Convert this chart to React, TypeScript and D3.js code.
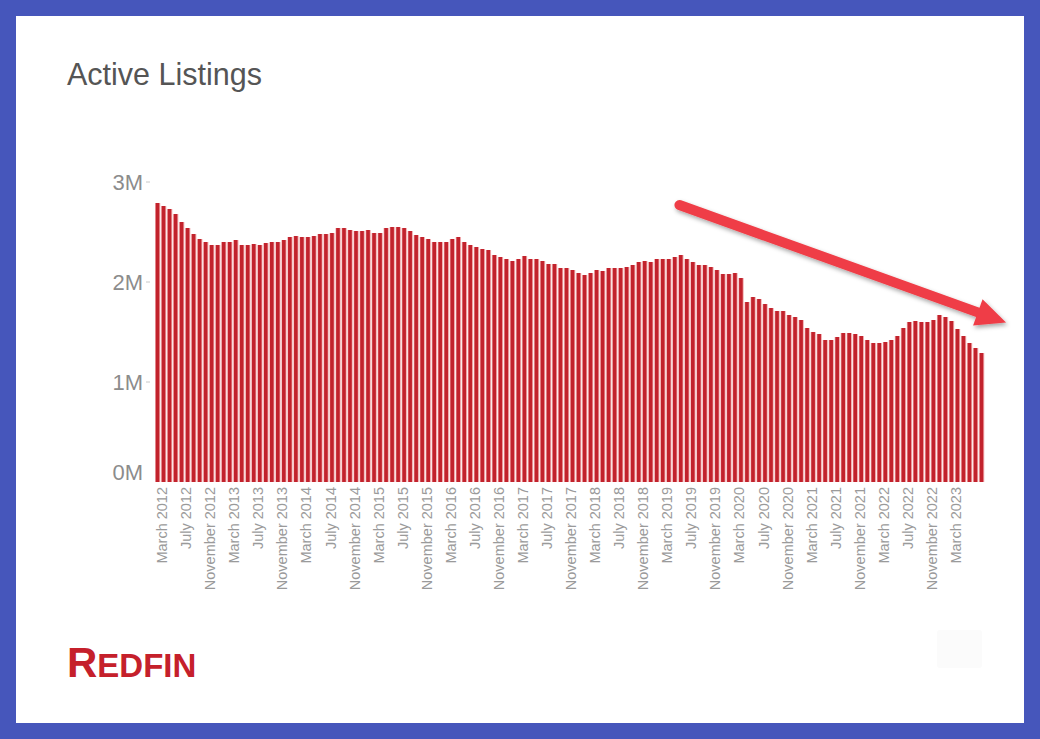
import React from 'react';
import * as d3 from 'd3';

// Active listings, millions, one value per month (first bar is February 2012)
const listings2012 = [2.79, 2.76, 2.73, 2.68, 2.60, 2.54, 2.48, 2.43, 2.40, 2.37, 2.37];
const listings2013 = [2.40, 2.40, 2.42, 2.37, 2.37, 2.38, 2.37, 2.39, 2.40, 2.40, 2.42, 2.45];
const listings2014 = [2.46, 2.45, 2.45, 2.46, 2.48, 2.48, 2.49, 2.54, 2.54, 2.52, 2.51, 2.51];
const listings2015 = [2.52, 2.49, 2.49, 2.54, 2.55, 2.55, 2.54, 2.51, 2.47, 2.45, 2.43, 2.40];
const listings2016 = [2.40, 2.40, 2.43, 2.45, 2.40, 2.37, 2.35, 2.33, 2.32, 2.27, 2.25, 2.23];
const listings2017 = [2.21, 2.23, 2.26, 2.23, 2.23, 2.21, 2.18, 2.18, 2.14, 2.14, 2.12, 2.09];
const listings2018 = [2.07, 2.09, 2.12, 2.11, 2.14, 2.14, 2.14, 2.15, 2.17, 2.20, 2.21, 2.20];
const listings2019 = [2.23, 2.23, 2.23, 2.25, 2.27, 2.23, 2.20, 2.17, 2.17, 2.15, 2.12, 2.08];
const listings2020 = [2.08, 2.09, 2.04, 1.80, 1.85, 1.83, 1.78, 1.74, 1.71, 1.71, 1.67, 1.65];
const listings2021 = [1.62, 1.54, 1.50, 1.48, 1.42, 1.42, 1.45, 1.49, 1.49, 1.48, 1.46, 1.42];
const listings2022 = [1.39, 1.39, 1.40, 1.42, 1.46, 1.54, 1.60, 1.61, 1.60, 1.60, 1.62, 1.67];
const listings2023 = [1.65, 1.61, 1.53, 1.46, 1.39, 1.34, 1.29];

const monthNames = ['January', 'February', 'March', 'April', 'May', 'June', 'July',
  'August', 'September', 'October', 'November', 'December'];

// [year, index of first month, values]
const years: [number, number, number[]][] = [
  [2012, 1, listings2012], [2013, 0, listings2013], [2014, 0, listings2014],
  [2015, 0, listings2015], [2016, 0, listings2016], [2017, 0, listings2017],
  [2018, 0, listings2018], [2019, 0, listings2019], [2020, 0, listings2020],
  [2021, 0, listings2021], [2022, 0, listings2022], [2023, 0, listings2023],
];

const tickLabels = [
  'March 2012', 'July 2012', 'November 2012', 'March 2013', 'July 2013', 'November 2013',
  'March 2014', 'July 2014', 'November 2014', 'March 2015', 'July 2015', 'November 2015',
  'March 2016', 'July 2016', 'November 2016', 'March 2017', 'July 2017', 'November 2017',
  'March 2018', 'July 2018', 'November 2018', 'March 2019', 'July 2019', 'November 2019',
  'March 2020', 'July 2020', 'November 2020', 'March 2021', 'July 2021', 'November 2021',
  'March 2022', 'July 2022', 'November 2022', 'March 2023',
];

const yTicks = [0, 1, 2, 3];
const yTickLabels = ['0M', '1M', '2M', '3M'];

interface Row {
  month: string
  value: number
}

const data: Row[] = [];
years.forEach(([year, first, vals]) => {
  vals.forEach((v, i) => data.push({month: `${monthNames[first + i]} ${year}`, value: v}));
});

const W = 1040;
const H = 739;
const font = '"Liberation Sans", Arial, Helvetica, sans-serif';

export default function App() {
  const left = 155, right = 985, baseline = 482, top = 182;

  const x = d3.scaleBand<string>(data.map(d => d.month), [left, right]);
  const y = d3.scaleLinear([0, 3], [baseline, top]);
  const step = x.step();
  // continuous month position, used to anchor the trend arrow
  const xi = d3.scaleLinear([0, data.length], [left, right]);

  // trend arrow: from spring 2019 peak area down to beyond the last bar
  const a0 = [xi(87.2), y(2.77)];
  const a1 = [xi(141.5), y(1.595)];
  const ang = Math.atan2(a1[1] - a0[1], a1[0] - a0[0]);
  const headLen = 30, headHalf = 14;
  const bx = a1[0] - headLen * Math.cos(ang), by = a1[1] - headLen * Math.sin(ang);
  const px = -Math.sin(ang) * headHalf, py = Math.cos(ang) * headHalf;
  const head = `M${a1[0]},${a1[1]}L${bx + px},${by + py}L${bx - px},${by - py}Z`;

  return (
    <svg width={W} height={H} style={{position: 'fixed', left: 0, top: 0}} fontFamily={font}>
      <defs>
        <filter id="shadow" x="-10%" y="-30%" width="120%" height="160%">
          <feDropShadow dx="1.5" dy="2.5" stdDeviation="2" floodColor="#000" floodOpacity="0.35"/>
        </filter>
      </defs>
      <rect x={0} y={0} width={W} height={H} fill="#4656bb"/>
      <rect x={16} y={16} width={1008} height={707} fill="#ffffff"/>

      <text x={67} y={85} fontSize={30.5} fill="#555555">Active Listings</text>

      {/* y axis */}
      {yTicks.map((t, i) => (
        <g key={t}>
          <text x={143} y={Math.min(y(t), baseline - 10)} dy="0.35em" textAnchor="end"
                fontSize={22} fill="#8c8c8c">{yTickLabels[i]}</text>
          {t > 0 && <line x1={146} x2={150} y1={y(t)} y2={y(t)} stroke="#c8c8c8" strokeWidth={1}/>}
        </g>
      ))}

      {/* bars */}
      {data.map(d => (
        <g key={d.month}>
          <rect x={x(d.month)!} y={y(d.value)} width={step * 0.88} height={baseline - y(d.value)} fill="#f2aeb0"/>
          <rect x={x(d.month)! + step * 0.12} y={y(d.value)} width={step * 0.6} height={baseline - y(d.value)} fill="#c2222c"/>
        </g>
      ))}

      {/* x axis labels */}
      {tickLabels.map(lbl => {
        const cx = x(lbl)! + step / 2 - 2;
        return (
          <text key={lbl} transform={`translate(${cx},${baseline + 5}) rotate(-90)`} dy="0.35em"
                textAnchor="end" fontSize={14.5} fill="#9a9a9a">{lbl}</text>
        );
      })}

      {/* trend arrow */}
      <g filter="url(#shadow)">
        <line x1={a0[0]} y1={a0[1]} x2={bx} y2={by} stroke="#ef3d46" strokeWidth={10} strokeLinecap="round"/>
        <path d={head} fill="#ef3d46"/>
      </g>

      {/* logo */}
      <text x={67} y={677} fill="#c5202b" fontWeight="bold">
        <tspan fontSize={42}>R</tspan>
        <tspan fontSize={33}>EDFIN</tspan>
      </text>

      <rect x={937} y={630} width={45} height={38} rx={3} fill="#fbfbfb"/>
    </svg>
  );
}
